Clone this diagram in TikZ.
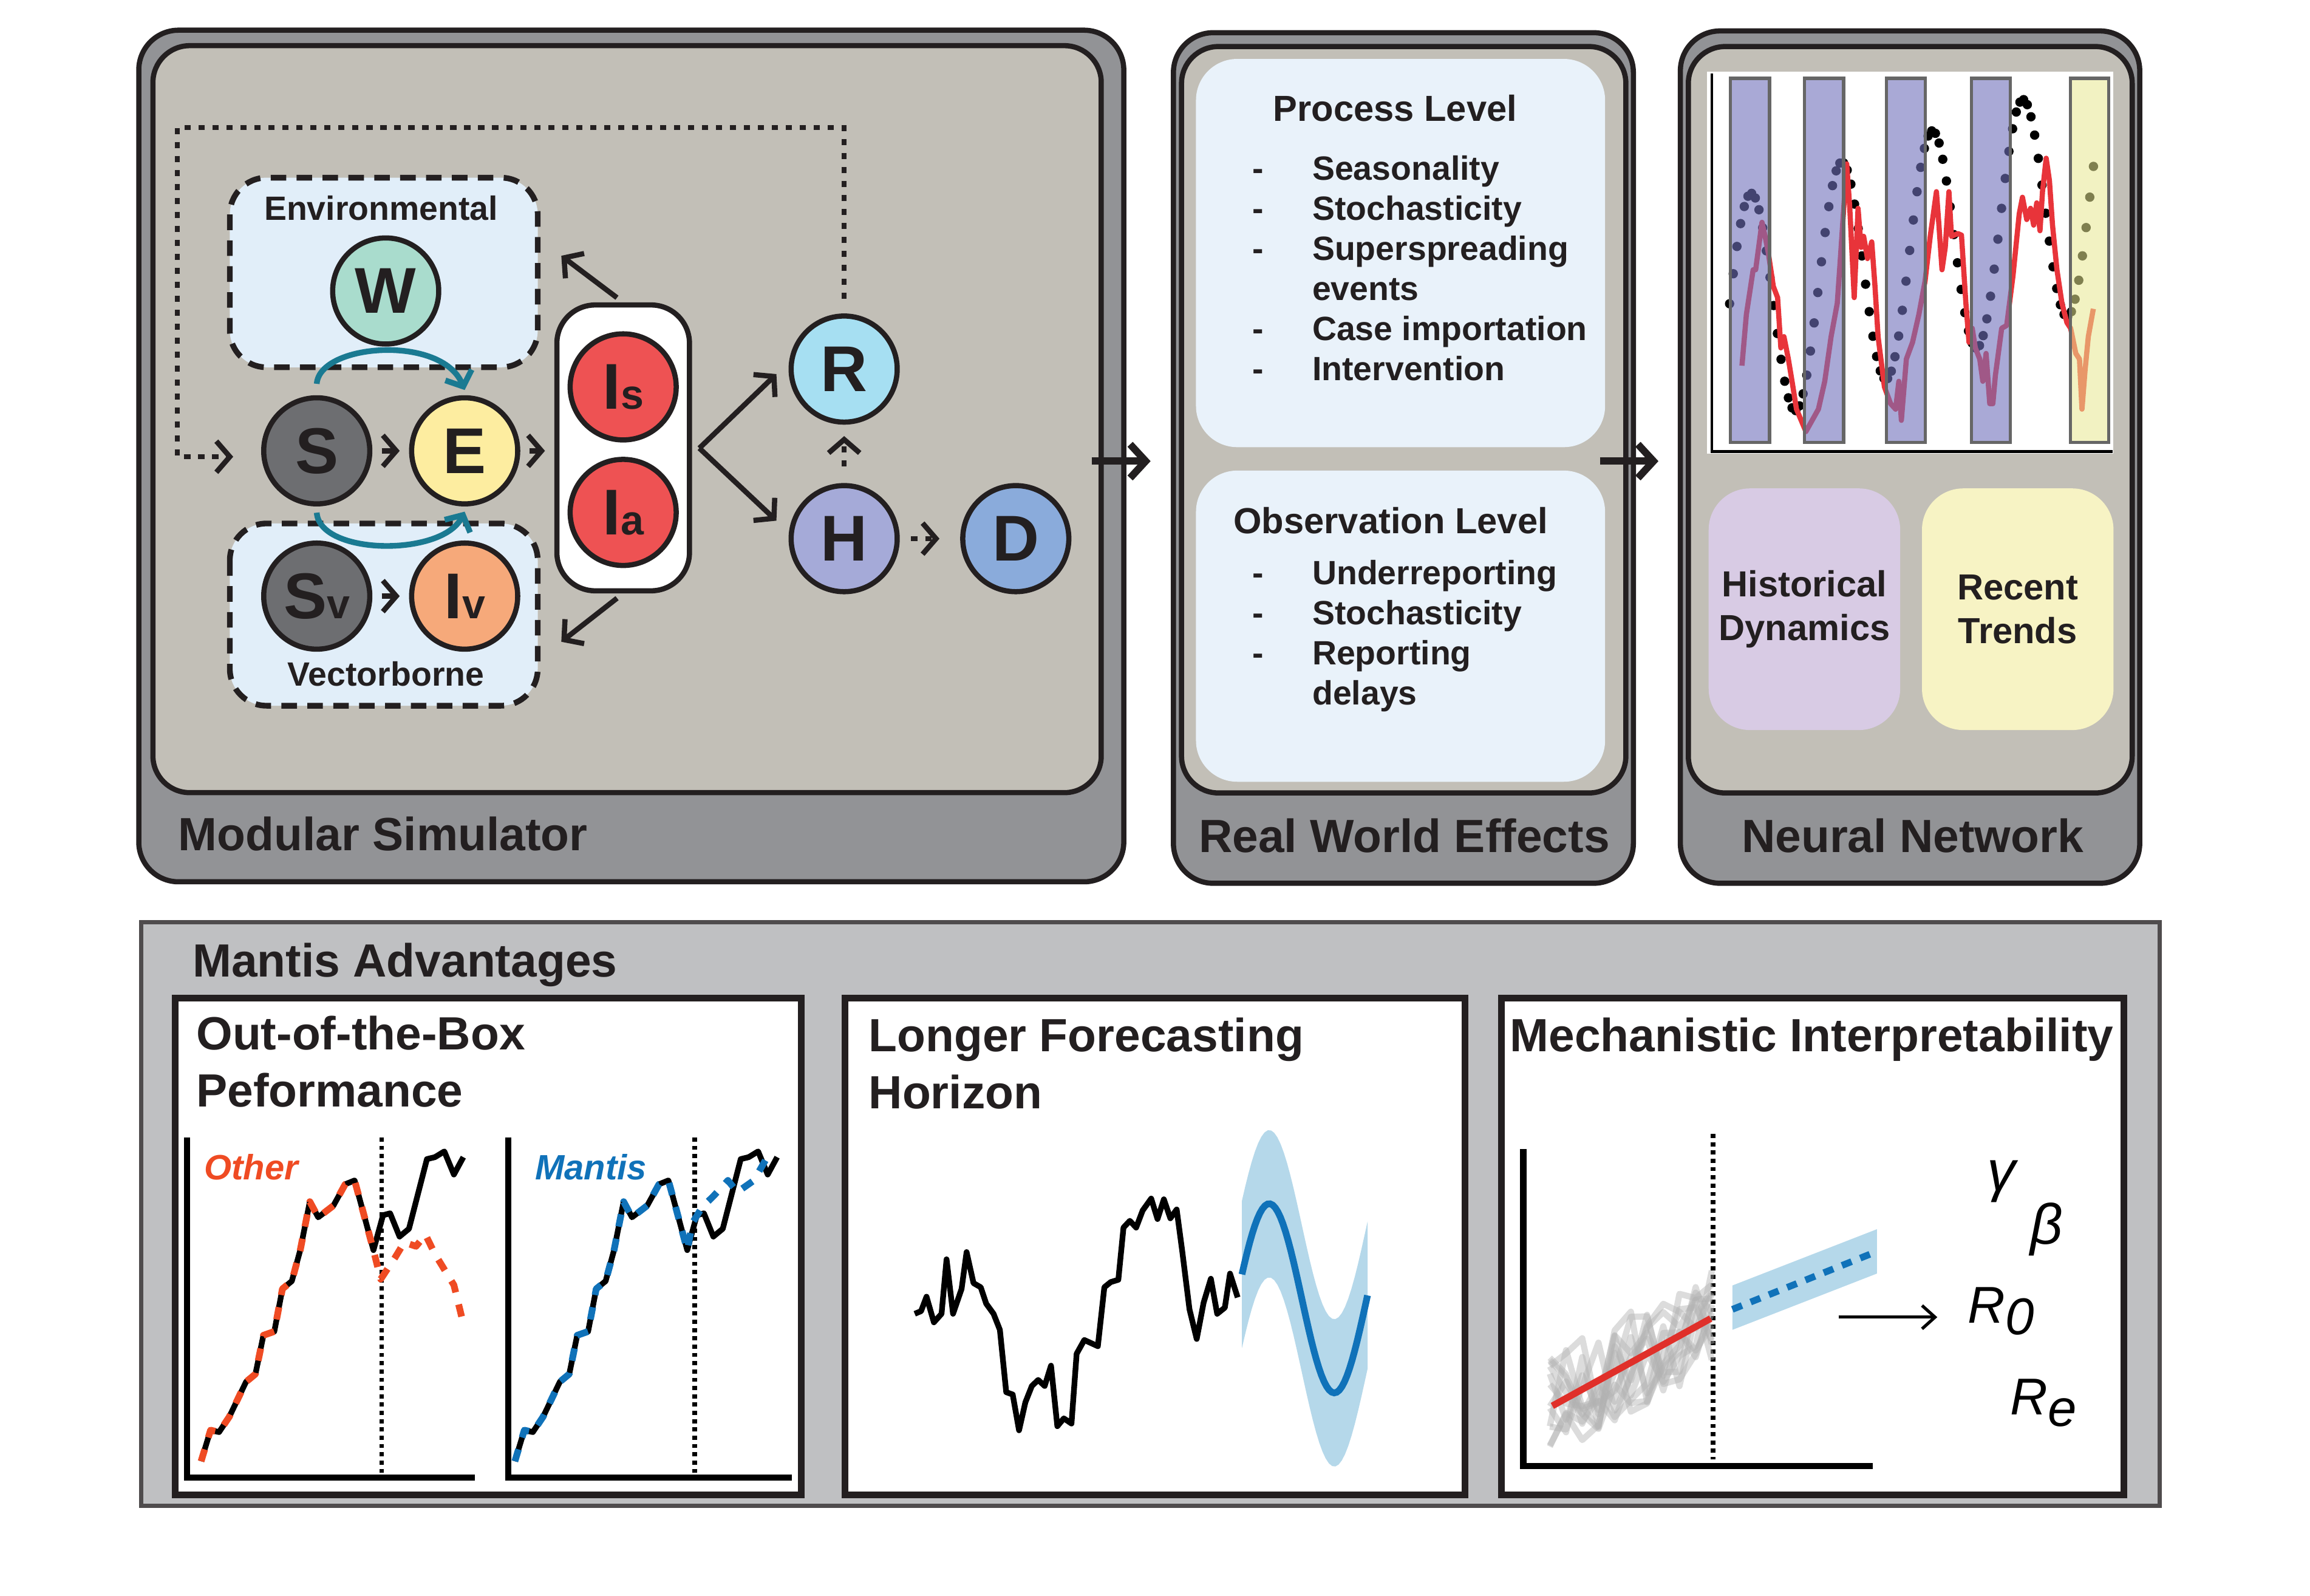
\documentclass[tikz,border=0pt]{standalone}
\usepackage{fontspec}
\setmainfont{Liberation Sans}
\usetikzlibrary{arrows.meta,calc}

\definecolor{ink}{RGB}{35,31,32}
\definecolor{panelgray}{RGB}{146,147,150}
\definecolor{panelbeige}{RGB}{194,191,183}
\definecolor{effectblue}{RGB}{233,242,250}
\definecolor{modblue}{RGB}{225,238,249}
\definecolor{cS}{RGB}{109,110,113}
\definecolor{cE}{RGB}{253,237,160}
\definecolor{cW}{RGB}{169,220,205}
\definecolor{cI}{RGB}{238,82,83}
\definecolor{cR}{RGB}{166,223,242}
\definecolor{cH}{RGB}{165,170,216}
\definecolor{cD}{RGB}{138,171,219}
\definecolor{cIv}{RGB}{246,169,122}
\definecolor{flowteal}{RGB}{26,122,146}
\definecolor{histlav}{RGB}{216,203,228}
\definecolor{trendyel}{RGB}{247,243,196}
\definecolor{barpurple}{RGB}{112,113,187}
\definecolor{baryellow}{RGB}{233,233,145}
\definecolor{fitred}{RGB}{232,52,58}
\definecolor{advgray}{RGB}{191,192,194}
\definecolor{othered}{RGB}{239,75,35}
\definecolor{mantisblue}{RGB}{16,114,185}
\definecolor{bandblue}{RGB}{181,216,234}
\definecolor{mechred}{RGB}{224,48,42}

\newcommand{\lowlet}[1]{{\fontsize{8}{8}\selectfont #1}}

\begin{document}
\begin{tikzpicture}[x=1cm, y=-1cm,
    outerp/.style={fill=panelgray, draw=ink, line width=1pt, rounded corners=0.27cm},
    innerp/.style={fill=panelbeige, draw=ink, line width=1pt, rounded corners=0.25cm},
    effbox/.style={fill=effectblue, rounded corners=0.28cm},
    modbox/.style={fill=modblue, draw=ink, line width=1.1pt, dash pattern=on 3pt off 2pt, rounded corners=0.25cm},
    comp/.style={circle, draw=ink, line width=1pt, minimum size=0.72cm, inner sep=0pt, text=ink, font=\bfseries\fontsize{12.5}{12.5}\selectfont},
    arr/.style={-{Straight Barb[length=2.6pt,width=6pt]}, line width=1pt, draw=ink},
    dotarr/.style={arr, dash pattern=on 1.2pt off 1.5pt},
    flow/.style={-{Straight Barb[length=2.4pt,width=5.5pt]}, line width=1.1pt, draw=flowteal},
    bigarr/.style={-{Straight Barb[length=3pt,width=6.5pt]}, line width=1.4pt, draw=ink},
    thinarr/.style={-{Straight Barb[length=2.5pt,width=4.5pt]}, line width=0.6pt},
    ttl/.style={font=\bfseries\fontsize{9}{11}\selectfont, inner sep=0pt, text=ink},
    lbl/.style={font=\bfseries\fontsize{6.5}{7.75}\selectfont, inner sep=0pt, text=ink},
    head/.style={font=\bfseries\fontsize{7}{8}\selectfont, inner sep=0pt, text=ink},
    nnlbl/.style={font=\bfseries\fontsize{7}{8.5}\selectfont, text=ink, rounded corners=0.28cm, inner sep=0.5pt, minimum width=1.3cm, minimum height=1.64cm, align=center},
    seasonbar/.style={fill=barpurple, fill opacity=0.6, draw=gray!80!black, line width=0.6pt},
    recentbar/.style={fill=baryellow, fill opacity=0.55, draw=gray!80!black, line width=0.6pt},
    advbox/.style={fill=white, draw=ink, line width=1.3pt},
    chartaxis/.style={line width=1.2pt, draw=black},
    cut/.style={line width=0.9pt, dash pattern=on 0.8pt off 0.8pt},
    trace/.style={line width=1.1pt, line join=round},
    grayline/.style={gray!60, line width=1.2pt, opacity=0.45, line join=round},
    param/.style={font=\itshape\fontsize{10}{10}\selectfont, inner sep=0pt}
]
\useasboundingbox (0,0) rectangle (15.68,10.83);
\fill[white] (0,0) rectangle (15.68,10.83);

% top row panels
\draw[outerp] (0.942,0.205) rectangle (7.628,5.985);
\draw[innerp] (1.038,0.31) rectangle (7.475,5.38);
\draw[outerp] (7.965,0.222) rectangle (11.087,5.995);
\draw[innerp] (8.02,0.316) rectangle (11.036,5.382);
\draw[outerp] (11.406,0.21) rectangle (14.524,5.995);
\draw[innerp] (11.46,0.316) rectangle (14.473,5.382);

\node[ttl, anchor=west] (simtitle) at (1.204,5.66) {Modular Simulator};
\node[ttl] (efftitle) at (9.532,5.674) {Real World Effects};
\node[ttl] (nettitle) at (12.982,5.674) {Neural Network};

% simulator
\draw[modbox] (1.56,1.206) rectangle (3.65,2.493);
\draw[modbox] (1.56,3.553) rectangle (3.65,4.79);
\node[lbl] (envlabel) at (2.587,1.414) {Environmental};
\node[lbl] (veclabel) at (2.62,4.576) {Vectorborne};

\node[comp, fill=cW] (W) at (2.618,1.975) {W};
\node[comp, fill=cS] (S) at (2.15,3.06) {S};
\node[comp, fill=cE] (E) at (3.154,3.06) {E};
\node[comp, fill=cS] (Sv) at (2.15,4.046) {S\lowlet{v}};
\node[comp, fill=cIv] (Iv) at (3.154,4.046) {I\lowlet{v}};
\node[draw=ink, fill=white, line width=1pt, rounded corners=0.26cm, minimum width=0.9cm, minimum height=1.94cm] (Ibox) at (4.23,3.04) {};
\node[comp, fill=cI] (Is) at (4.23,2.626) {I\lowlet{s}};
\node[comp, fill=cI] (Ia) at (4.23,3.478) {I\lowlet{a}};
\node[comp, fill=cR] (R) at (5.73,2.505) {R};
\node[comp, fill=cH] (H) at (5.73,3.656) {H};
\node[comp, fill=cD] (D) at (6.895,3.656) {D};

\coordinate (split) at (4.747,3.042);
\coordinate (rtip) at (5.27,2.539);
\coordinate (htip) at (5.27,3.534);
\coordinate (envtip) at (3.81,1.736);
\coordinate (vectip) at (3.81,4.356);
\coordinate (loopnw) at (1.204,0.865);
\coordinate (loopend) at (1.583,3.10);

\draw[arr, shorten <=1.8pt, shorten >=1.8pt] (S) -- (E);
\draw[arr, shorten <=1.8pt, shorten >=1.8pt] (Sv) -- (Iv);
\draw[arr, shorten <=1.8pt, shorten >=1.8pt] (E) -- (E -| Ibox.west);
\draw[arr, shorten <=1.5pt] (Ibox.north) -- (envtip);
\draw[arr, shorten <=1.5pt] (Ibox.south) -- (vectip);
\draw[arr] (split) -- (rtip);
\draw[arr] (split) -- (htip);
\draw[dotarr, shorten <=3.2pt, shorten >=2.2pt] (H) -- (R);
\draw[dotarr, shorten <=2.2pt, shorten >=4pt] (H) -- (D);
\draw[dotarr] ([yshift=2.8pt]R.north) |- (loopnw) |- (loopend);
\draw[flow] ([yshift=2.2pt]S.north) .. controls (2.17,2.33) and (3.0,2.27) .. ([yshift=1pt]E.north);
\draw[flow] ([yshift=-1.2pt]S.south) .. controls (2.17,3.77) and (3.0,3.78) .. ([yshift=-1pt]E.south);

% panel to panel
\coordinate (simout) at (7.41,3.13);
\coordinate (effin) at (7.81,3.13);
\coordinate (effout) at (10.86,3.13);
\coordinate (netin) at (11.257,3.13);
\draw[bigarr] (simout) -- (effin);
\draw[bigarr] (effout) -- (netin);

% real world effects
\fill[effbox] (8.118,0.40) rectangle (10.895,3.035);
\fill[effbox] (8.118,3.194) rectangle (10.895,5.306);
\node[head] (proc) at (9.47,0.733) {Process Level};
\node[lbl, anchor=base west] (proclist) at (8.495,1.222) {\begin{tabular}[t]{@{}l@{\hspace{0.33cm}}l@{}}
-&Seasonality\\ -&Stochasticity\\ -&Superspreading\\ &events\\ -&Case importation\\ -&Intervention\end{tabular}};
\node[head] (obs) at (9.44,3.535) {Observation Level};
\node[lbl, anchor=base west] (obslist) at (8.495,3.967) {\begin{tabular}[t]{@{}l@{\hspace{0.33cm}}l@{}}
-&Underreporting\\ -&Stochasticity\\ -&Reporting\\ &delays\end{tabular}};

% neural network
\fill[white] (11.585,0.487) rectangle (14.345,3.08);
\draw[line width=0.5pt] (11.62,0.50) -- (11.62,3.065) -- (14.34,3.065);
\fill[black] plot[only marks, mark=*, mark size=0.7pt, samples=100, domain=11.74:14.21]
  (\x,{2.045-0.345*(\x-12.05)+0.79*cos(360*(\x-12.19)/0.615)});
\draw[fitred, line width=1pt, line join=round] plot coordinates {
  (11.824,2.482) (11.854,2.134) (11.883,1.944) (11.90,1.831) (11.917,1.831) (11.96,1.509)
  (11.981,1.604) (12.003,1.717) (12.037,1.944) (12.066,2.02) (12.088,2.361) (12.109,2.285)
  (12.139,2.437) (12.164,2.588) (12.194,2.777) (12.258,2.929) (12.343,2.777) (12.386,2.588)
  (12.429,2.285) (12.471,2.058) (12.492,1.755) (12.535,1.112) (12.556,1.414) (12.586,2.02)
  (12.612,1.414) (12.633,1.679) (12.65,1.604) (12.676,1.755) (12.705,1.642) (12.727,1.944)
  (12.748,2.285) (12.791,2.626) (12.833,2.74) (12.867,2.777) (12.889,2.588) (12.906,2.853)
  (12.94,2.437) (12.982,2.323) (13.025,2.134) (13.067,1.907) (13.102,1.604) (13.144,1.301)
  (13.161,1.528) (13.182,1.831) (13.204,1.679) (13.229,1.301) (13.246,1.604) (13.289,1.585)
  (13.314,1.596) (13.344,2.058) (13.365,2.323) (13.387,2.228) (13.408,2.361) (13.438,2.437)
  (13.459,2.588) (13.481,2.399) (13.506,2.74) (13.527,2.74) (13.544,2.55) (13.587,2.228)
  (13.621,2.209) (13.664,1.869) (13.706,1.452) (13.728,1.339) (13.757,1.49) (13.783,1.414)
  (13.804,1.528) (13.825,1.377) (13.847,1.566) (13.864,1.301) (13.889,1.074) (13.911,1.225)
  (13.932,1.528) (13.962,1.831) (13.996,2.058) (14.03,2.19) (14.055,2.228) (14.09,2.399)
  (14.115,2.437) (14.132,2.777) (14.153,2.512) (14.175,2.285) (14.209,2.096)};
\draw[seasonbar] (11.747,0.532) rectangle (12.011,3.004);
\draw[seasonbar] (12.25,0.532) rectangle (12.514,3.004);
\draw[seasonbar] (12.803,0.532) rectangle (13.068,3.004);
\draw[seasonbar] (13.383,0.532) rectangle (13.647,3.004);
\draw[recentbar] (14.055,0.532) rectangle (14.315,3.004);
\node[nnlbl, fill=histlav] (hist) at (12.248,4.135) {Historical\\Dynamics};
\node[nnlbl, fill=trendyel] (recent) at (13.696,4.135) {Recent\\Trends};

% mantis advantages
\draw[fill=advgray, draw=ink!80, line width=0.8pt] (0.96,6.26) rectangle (14.66,10.22);
\node[ttl, anchor=base west] (advtitle) at (1.30,6.63) {Mantis Advantages};
\draw[advbox] (1.19,6.775) rectangle (5.44,10.145);
\draw[advbox] (5.735,6.775) rectangle (9.945,10.145);
\draw[advbox] (10.19,6.775) rectangle (14.415,10.145);
\node[ttl, anchor=north west, align=left] (boxtitle) at (1.326,6.888) {Out-of-the-Box\\Peformance};
\node[ttl, anchor=north west, align=left] (horiztitle) at (5.89,6.90) {Longer Forecasting\\Horizon};
\node[ttl, anchor=base west] (mechtitle) at (10.243,7.138) {Mechanistic Interpretability};

% out-of-the-box charts
\draw[chartaxis] (1.27,7.72) -- (1.27,10.03) -- (3.225,10.03);
\draw[chartaxis] (3.45,7.72) -- (3.45,10.03) -- (5.375,10.03);
\draw[cut] (2.59,7.72) -- (2.59,10.0);
\draw[cut] (4.716,7.72) -- (4.716,10.0);
\draw[trace] plot coordinates {(1.365,9.918) (1.429,9.707) (1.487,9.72) (1.557,9.615) (1.67,9.379)
  (1.734,9.326) (1.788,9.063) (1.862,9.037) (1.917,8.748) (1.981,8.695) (2.038,8.485) (2.103,8.156)
  (2.16,8.262) (2.263,8.183) (2.343,8.038) (2.407,8.012) (2.471,8.248) (2.535,8.485) (2.60,8.248)
  (2.648,8.235) (2.712,8.393) (2.776,8.34) (2.898,7.867) (2.952,7.854) (3.016,7.815) (3.081,7.972)
  (3.145,7.854)};
\draw[trace, line width=1.3pt, othered, dash pattern=on 2.4pt off 2.4pt] plot coordinates {(1.365,9.918) (1.429,9.707)
  (1.487,9.72) (1.557,9.615) (1.67,9.379) (1.734,9.326) (1.788,9.063) (1.862,9.037) (1.917,8.748)
  (1.981,8.695) (2.038,8.485) (2.103,8.156) (2.16,8.262) (2.263,8.183) (2.343,8.038) (2.407,8.012)
  (2.471,8.248) (2.535,8.485) (2.584,8.682) (2.68,8.538) (2.744,8.432) (2.824,8.459) (2.888,8.38)
  (2.952,8.511) (3.016,8.616) (3.081,8.722) (3.145,8.984)};
\node[font=\bfseries\itshape\fontsize{6.8}{7}\selectfont, text=othered, anchor=west, inner sep=0pt] (other) at (1.38,7.92) {Other};
\begin{scope}[xshift=2.13cm]
\draw[trace] plot coordinates {(1.365,9.918) (1.429,9.707) (1.487,9.72) (1.557,9.615) (1.67,9.379)
  (1.734,9.326) (1.788,9.063) (1.862,9.037) (1.917,8.748) (1.981,8.695) (2.038,8.485) (2.103,8.156)
  (2.16,8.262) (2.263,8.183) (2.343,8.038) (2.407,8.012) (2.471,8.248) (2.535,8.485) (2.60,8.248)
  (2.648,8.235) (2.712,8.393) (2.776,8.34) (2.898,7.867) (2.952,7.854) (3.016,7.815) (3.081,7.972)
  (3.145,7.854)};
\draw[trace, line width=1.3pt, mantisblue, dash pattern=on 2.4pt off 2.4pt] plot coordinates {(1.365,9.918) (1.429,9.707)
  (1.487,9.72) (1.557,9.615) (1.67,9.379) (1.734,9.326) (1.788,9.063) (1.862,9.037) (1.917,8.748)
  (1.981,8.695) (2.038,8.485) (2.103,8.156) (2.16,8.262) (2.263,8.183) (2.343,8.038) (2.407,8.012)
  (2.471,8.248) (2.535,8.485) (2.57,8.301) (2.634,8.196) (2.714,8.117) (2.811,8.012) (2.875,8.091)
  (2.987,8.012) (3.10,7.815)};
\end{scope}
\node[font=\bfseries\itshape\fontsize{6.8}{7}\selectfont, text=mantisblue, anchor=west, inner sep=0pt] (mantis) at (3.626,7.92) {Mantis};

% longer horizon chart
\fill[bandblue] plot[domain=8.43:9.283, samples=40] (\x,{8.312-0.642*cos(360*(\x-8.615)/0.884)})
  -- plot[domain=9.283:8.43, samples=40] (\x,{9.312-0.642*cos(360*(\x-8.615)/0.884)}) -- cycle;
\draw[trace] plot coordinates {(6.209,8.917) (6.252,8.899) (6.289,8.801) (6.339,8.975) (6.391,8.917)
  (6.425,8.547) (6.469,8.917) (6.527,8.748) (6.561,8.498) (6.608,8.709) (6.657,8.737) (6.694,8.848)
  (6.744,8.917) (6.787,9.026) (6.83,9.449) (6.874,9.465) (6.917,9.708) (6.96,9.518) (7.004,9.407)
  (7.047,9.366) (7.091,9.407) (7.134,9.269) (7.177,9.68) (7.221,9.627) (7.273,9.662) (7.308,9.188)
  (7.36,9.095) (7.452,9.137) (7.496,8.737) (7.539,8.702) (7.591,8.686) (7.626,8.332) (7.669,8.286)
  (7.712,8.332) (7.756,8.216) (7.814,8.135) (7.857,8.274) (7.90,8.14) (7.944,8.269) (7.987,8.209)
  (8.025,8.494) (8.074,8.887) (8.123,9.088) (8.17,8.841) (8.219,8.679) (8.262,8.917) (8.314,8.875)
  (8.349,8.644) (8.401,8.806)};
\draw[mantisblue, line width=1.3pt] plot[domain=8.43:9.283, samples=50] (\x,{8.812-0.642*cos(360*(\x-8.615)/0.884)});

% mechanistic chart
\draw[chartaxis] (10.34,7.80) -- (10.34,9.95) -- (12.71,9.95);
\draw[cut] (11.627,7.696) -- (11.627,9.905);
\pgfmathsetseed{21}
\draw[grayline] plot[domain=10.52:11.62, samples=11] (\x,{9.55-0.55*(\x-10.52)+0.35*rand});
\draw[grayline] plot[domain=10.52:11.62, samples=11] (\x,{9.55-0.55*(\x-10.52)+0.35*rand});
\draw[grayline] plot[domain=10.52:11.62, samples=11] (\x,{9.55-0.55*(\x-10.52)+0.35*rand});
\draw[grayline] plot[domain=10.52:11.62, samples=11] (\x,{9.55-0.55*(\x-10.52)+0.35*rand});
\draw[grayline] plot[domain=10.52:11.62, samples=11] (\x,{9.55-0.55*(\x-10.52)+0.35*rand});
\draw[grayline] plot[domain=10.52:11.62, samples=11] (\x,{9.55-0.55*(\x-10.52)+0.35*rand});
\draw[grayline] plot[domain=10.52:11.62, samples=11] (\x,{9.55-0.55*(\x-10.52)+0.35*rand});
\draw[grayline] plot[domain=10.52:11.62, samples=11] (\x,{9.55-0.55*(\x-10.52)+0.35*rand});
\draw[grayline] plot[domain=10.52:11.62, samples=11] (\x,{9.55-0.55*(\x-10.52)+0.35*rand});
\draw[grayline] plot[domain=10.52:11.62, samples=11] (\x,{9.55-0.55*(\x-10.52)+0.35*rand});
\draw[grayline] plot[domain=10.52:11.62, samples=11] (\x,{9.55-0.55*(\x-10.52)+0.35*rand});
\draw[grayline] plot[domain=10.52:11.62, samples=11] (\x,{9.55-0.55*(\x-10.52)+0.35*rand});
\draw[mechred, line width=1.3pt] (10.537,9.542) -- (11.612,8.949);
\fill[bandblue] (11.759,8.725) -- (12.74,8.343) -- (12.74,8.644) -- (11.759,9.026) -- cycle;
\draw[mantisblue, line width=1.3pt, dash pattern=on 2pt off 1.8pt] (11.759,8.887) -- (12.74,8.494);
\node[param, font=\itshape\fontsize{11}{11}\selectfont] (gam) at (13.584,8.02) {γ};
\node[param, font=\itshape\fontsize{11}{11}\selectfont] (bet) at (13.894,8.343) {β};
\node[param, anchor=base west] (R0) at (13.35,8.979) {R\raisebox{-0.22em}{0}};
\node[param, anchor=base west] (Re) at (13.64,9.604) {R\raisebox{-0.22em}{e}};
\coordinate (mechfrom) at (12.48,8.94);
\draw[thinarr, shorten >=0.2cm] (mechfrom) -- (mechfrom -| R0.west);
\end{tikzpicture}
\end{document}
